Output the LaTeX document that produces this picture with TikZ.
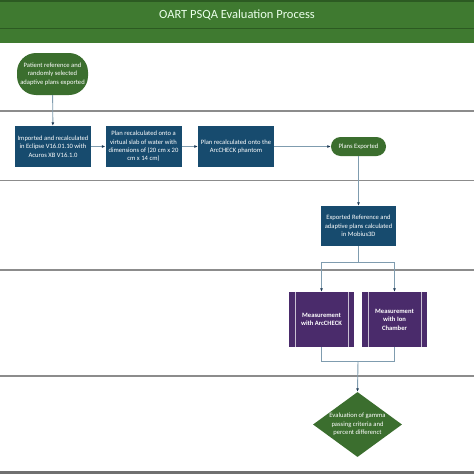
\documentclass[tikz,border=0pt]{standalone}
\usepackage{fontspec}
\setmainfont{Carlito}
\usetikzlibrary{shapes.geometric,arrows.meta}
\definecolor{tgreen}{HTML}{3F7A30}
\definecolor{tdark}{HTML}{2C5A22}
\definecolor{nblue}{HTML}{174B6E}
\definecolor{npurple}{HTML}{4A2B6B}
\definecolor{ngreen}{HTML}{3B6E2E}
\definecolor{conn}{HTML}{7F9CAF}
\definecolor{tipc}{HTML}{1E3A55}
\definecolor{lanec}{HTML}{8C8C8C}
\tikzset{
  x=1pt,y=-1pt,
  txt/.style={text=white,font=\fontsize{6.6}{8.4}\selectfont,align=center,inner sep=1pt},
  bluebox/.style={txt,fill=nblue,minimum width=76pt,minimum height=41pt},
  purplebox/.style={txt,fill=npurple,minimum width=65pt,minimum height=55pt,font=\fontsize{6.6}{8.4}\selectfont\bfseries},
  startnode/.style={txt,fill=ngreen,rounded corners=19pt,minimum width=71pt,minimum height=42pt},
  pillnode/.style={txt,fill=ngreen,rounded corners=9.5pt,minimum width=55pt,minimum height=19pt},
  decision/.style={txt,fill=ngreen,diamond,aspect=1.37,minimum width=89pt,minimum height=65pt,inner sep=0pt},
  flow/.style={draw=conn,line width=0.9pt,-{Latex[length=3.5pt,width=3pt,color=tipc]}},
  plain/.style={draw=conn,line width=0.9pt},
  lane/.style={draw=lanec,line width=1.2pt}
}
\begin{document}
\begin{tikzpicture}
\fill[white] (0,0) rectangle (474,474);
\useasboundingbox (0,0) rectangle (474,474);
% title bar
\fill[tgreen] (0,0) rectangle (474,42.5);
\draw[tdark,line width=1.2pt] (0,1) -- (474,1);
\draw[tdark,line width=1pt] (0,28.5) -- (474,28.5);
\node[text=white!92!green,font=\fontsize{12.5}{14}\selectfont] (title) at (237,14.5) {OART PSQA Evaluation Process};
% lanes
\draw[lane] (0,111) -- (474,111);
\draw[lane] (0,180.5) -- (474,180.5);
\draw[lane] (0,270) -- (474,270);
\draw[lane] (0,376) -- (474,376);
\draw[draw=lanec!80!black,line width=3pt] (0,472.5) -- (474,472.5);
% nodes
\node[startnode] (start) at (52.5,74) {Patient reference and\\randomly selected\\adaptive plans exported};
\node[bluebox] (b1) at (53,146.5) {Imported and recalculated\\in Eclipse V16.01.10 with\\Acuros XB V16.1.0};
\node[bluebox] (b2) at (143.5,146.5) {Plan recalculated onto a\\virtual slab of water with\\dimensions of (20 cm x 20\\cm x 14 cm)};
\node[bluebox] (b3) at (236,146.5) {Plan recalculated onto the\\ArcCHECK phantom};
\node[pillnode] (pe) at (358.5,146.5) {Plans Exported};
\node[bluebox,minimum width=75pt,minimum height=40pt] (mob) at (358.5,226) {Exported Reference and\\adaptive plans calculated\\in Mobius3D};
\node[purplebox] (p1) at (321.5,319.5) {Measurement\\with ArcCHECK};
\node[purplebox] (p2) at (394.5,319.5) {Measurement\\with Ion\\Chamber};
\foreach \n in {p1,p2}{
  \draw[white!70!npurple,line width=0.6pt] ([xshift=6pt]\n.north west) -- ([xshift=6pt]\n.south west);
  \draw[white!70!npurple,line width=0.6pt] ([xshift=-6pt]\n.north east) -- ([xshift=-6pt]\n.south east);
}
\node[decision] (dec) at (357.5,424.5) {Evaluation of gamma\\passing criteria and\\percent differenct};
% connectors
\draw[flow] (start) -- (b1);
\draw[flow] (b1) -- (b2);
\draw[flow] (b2) -- (b3);
\draw[flow] (b3) -- (pe);
\draw[flow] (pe) -- (mob);
\coordinate (split) at (358.5,262);
\coordinate (merge) at (358,361);
\draw[plain] (mob.south) -- (split);
\draw[flow] (split) -| (p1.north);
\draw[flow] (split) -| (p2.north);
\draw[plain] (p1.south) |- (merge);
\draw[plain] (p2.south) |- (merge);
\draw[flow] (merge) -- (dec.north);
\end{tikzpicture}
\end{document}
